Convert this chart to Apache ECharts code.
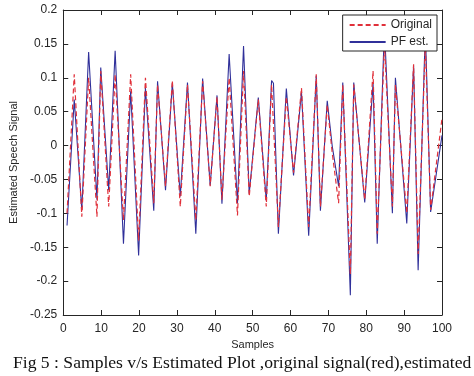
<!DOCTYPE html>
<html>
<head>
<meta charset="utf-8">
<script src="https://cdn.jsdelivr.net/npm/echarts@6/dist/echarts.min.js"></script>
<style>
  html,body{margin:0;padding:0;background:#fff;}
  #main{width:474px;height:376px;}
</style>
</head>
<body>
<div id="main"></div>
<script>
// sample positions of the turning points
var sampleIdx = [1, 2.9, 4.9, 6.7, 8.9, 9.9, 12.0, 13.7, 15.9, 17.8, 19.9, 21.7, 23.9, 24.9, 27.0, 28.8, 30.9, 32.8, 35.0, 36.8, 38.8, 40.6, 41.9, 43.8, 46.0, 47.6, 49.1, 51.5, 53.6, 55.0, 55.5, 56.8, 58.9, 60.8, 62.9, 64.8, 66.8, 67.9, 69.7, 71.0, 72.7, 73.8, 75.8, 76.7, 79.6, 81.8, 82.9, 84.8, 86.9, 87.7, 90.7, 92.5, 93.7, 95.6, 97.0, 100];
// red dashed - original signal
var originalSig = [-0.100, 0.105, -0.105, 0.100, -0.105, 0.110, -0.090, 0.105, -0.110, 0.105, -0.140, 0.100, -0.085, 0.090, -0.060, 0.096, -0.090, 0.090, -0.110, 0.095, -0.060, 0.072, -0.080, 0.100, -0.103, 0.110, -0.075, 0.068, -0.090, 0.090, 0.088, -0.120, 0.072, -0.040, 0.085, -0.120, 0.105, -0.090, 0.060, -0.010, -0.085, 0.090, -0.190, 0.090, -0.080, 0.110, -0.130, 0.150, -0.090, 0.090, -0.100, 0.120, -0.160, 0.150, -0.095, 0.040];
// blue solid - PF estimate
var pfEst = [-0.118, 0.068, -0.095, 0.138, -0.080, 0.115, -0.066, 0.140, -0.145, 0.080, -0.162, 0.085, -0.096, 0.095, -0.066, 0.092, -0.075, 0.093, -0.130, 0.099, -0.059, 0.074, -0.086, 0.135, -0.085, 0.147, -0.071, 0.071, -0.081, 0.096, 0.092, -0.130, 0.084, -0.044, 0.079, -0.133, 0.103, -0.096, 0.066, 0.000, -0.060, 0.093, -0.221, 0.093, -0.084, 0.092, -0.145, 0.175, -0.100, 0.100, -0.115, 0.118, -0.184, 0.170, -0.098, 0.015];

var xTicks = {min: 0, max: 100, interval: 10};
var yTicks = {min: -0.25, max: 0.2, interval: 0.05};

var pairs = function (xs, ys) {
    return xs.map(function (x, i) { return [x, ys[i]]; });
};

var axisCol = '#262626';
var tick = {show: true, inside: true, length: 5, lineStyle: {color: axisCol}};
var lbl = {color: axisCol, fontFamily: 'Liberation Sans', fontSize: 12};

var option = {
    animation: false,
    backgroundColor: '#fff',
    grid: {left: 51, right: 32, top: 10, bottom: 61, show: false},
    legend: {
        orient: 'vertical',
        right: 37, top: 15,
        backgroundColor: '#fff',
        borderColor: '#262626', borderWidth: 1,
        padding: [4, 5, 3, 6],
        itemWidth: 36, itemHeight: 10, itemGap: 5,
        itemStyle: {opacity: 0},
        textStyle: {color: '#262626', fontFamily: 'Liberation Sans', fontSize: 12},
        data: ['Original', 'PF est.']
    },
    xAxis: [{
        type: 'value', min: xTicks.min, max: xTicks.max, interval: xTicks.interval,
        name: 'Samples', nameLocation: 'middle', nameGap: 22,
        nameTextStyle: {color: axisCol, fontFamily: 'Liberation Sans', fontSize: 11},
        axisLine: {onZero: false, lineStyle: {color: axisCol}},
        axisTick: tick, axisLabel: lbl, splitLine: {show: false}
    }, {
        type: 'value', position: 'top', min: xTicks.min, max: xTicks.max, interval: xTicks.interval,
        axisLine: {onZero: false, lineStyle: {color: axisCol}},
        axisTick: tick, axisLabel: {show: false}, splitLine: {show: false}
    }],
    yAxis: [{
        type: 'value', min: yTicks.min, max: yTicks.max, interval: yTicks.interval,
        name: 'Estimated Speech Signal', nameLocation: 'middle', nameGap: 41,
        nameTextStyle: {color: axisCol, fontFamily: 'Liberation Sans', fontSize: 11},
        axisLine: {show: true, onZero: false, lineStyle: {color: axisCol}},
        axisTick: tick,
        axisLabel: Object.assign({}, lbl, {margin: 6, formatter: function (v) { return String(parseFloat(v.toFixed(2))); }}),
        splitLine: {show: false}
    }, {
        type: 'value', position: 'right', min: yTicks.min, max: yTicks.max, interval: yTicks.interval,
        axisLine: {show: true, onZero: false, lineStyle: {color: axisCol}},
        axisTick: tick, axisLabel: {show: false}, splitLine: {show: false}
    }],
    series: [{
        name: 'Original', type: 'line', symbol: 'none', z: 3,
        data: pairs(sampleIdx, originalSig),
        lineStyle: {color: '#e0303a', width: 1.2, type: [5, 3]},
        itemStyle: {color: '#e0303a'}
    }, {
        name: 'PF est.', type: 'line', symbol: 'none', z: 2,
        data: pairs(sampleIdx, pfEst),
        lineStyle: {color: '#30309a', width: 1.1},
        itemStyle: {color: '#30309a'}
    }],
    graphic: [{
        type: 'text', left: 13, top: 354,
        style: {
            text: 'Fig 5 : Samples v/s Estimated Plot ,original signal(red),estimated',
            fill: '#111', font: '17.6px "Liberation Serif"'
        }
    }]
};

echarts.init(document.getElementById('main')).setOption(option);
</script>
</body>
</html>
